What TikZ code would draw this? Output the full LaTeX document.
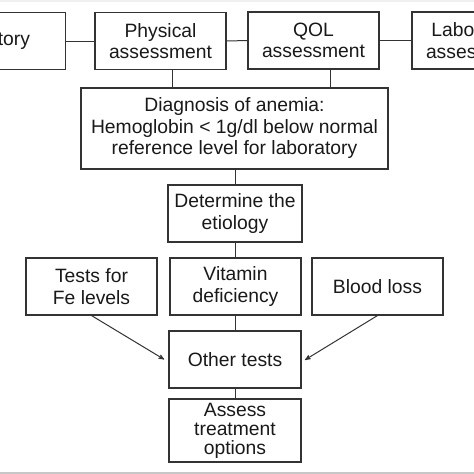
\documentclass[tikz,border=0pt]{standalone}
\usepackage{fontspec}
\setmainfont{Liberation Sans}
\usepackage{tikz}
\usetikzlibrary{arrows}

\begin{document}
\begin{tikzpicture}[x=1pt,y=-1pt,
		stage/.style={draw=black!80,line width=1.1pt,minimum width=131pt,minimum height=57pt,inner sep=1pt,align=center,
			text=black!90,font=\fontsize{19.3}{21.5}\selectfont},
		link/.style={draw=black!80,line width=1pt}]
		\useasboundingbox (0,0) rectangle (474,474);
		\fill[black!6] (0,0) rectangle (474,2);
		\fill[black!22] (0,472) rectangle (474,474);
		
		\node[stage] (hist) at (0,41) {History};
		\node[stage] (phys) at (160.5,41) {Physical\\assessment};
		\node[stage] (qol) at (313.5,40.5) {QOL\\assessment};
		\node[stage] (lab) at (477.5,40.5) {Laboratory\\assessment};
		\node[stage,minimum width=307pt,minimum height=81pt] (diag) at (234.5,128.5) {Diagnosis of anemia:\\Hemoglobin < 1g/dl below normal\\reference level for laboratory};
		\node[stage,minimum width=134pt] (etio) at (235,213.5) {Determine the\\etiology};
		\node[stage] (fe) at (91.5,286.5) {Tests for\\Fe levels};
		\node[stage] (vit) at (235.5,286.5) {Vitamin\\deficiency};
		\node[stage] (blood) at (377.5,286.5) {Blood loss};
		\node[stage,minimum width=132pt] (other) at (235,359.5) {Other tests};
		\node[stage,minimum width=132pt,minimum height=63pt,font=\fontsize{19.3}{19}\selectfont] (assess) at (235,430.5) {Assess\\treatment\\options};
		
		\draw[link] (hist) -- (phys);
		\draw[link] (phys) -- (qol);
		\draw[link] (qol) -- (lab);
		\draw[link] ([xshift=12pt]phys.south) -- ([xshift=12pt]phys.south |- diag.north);
		\draw[link] ([xshift=16.5pt]qol.south) -- ([xshift=16.5pt]qol.south |- diag.north);
		\draw[link] (diag.south -| etio.north) -- (etio.north);
		\draw[link] (etio.south) -- (etio.south |- vit.north);
		\draw[link] (vit.south -| other.north) -- (other.north);
		\draw[link] (other.south) -- (assess.north);
		\draw[link,-stealth',shorten >=5pt] (fe.south) -- ([yshift=-2.5pt]other.west);
		\draw[link,-stealth',shorten >=4pt] (blood.south) -- ([yshift=-2.5pt]other.east);
	\end{tikzpicture}
\end{document}
